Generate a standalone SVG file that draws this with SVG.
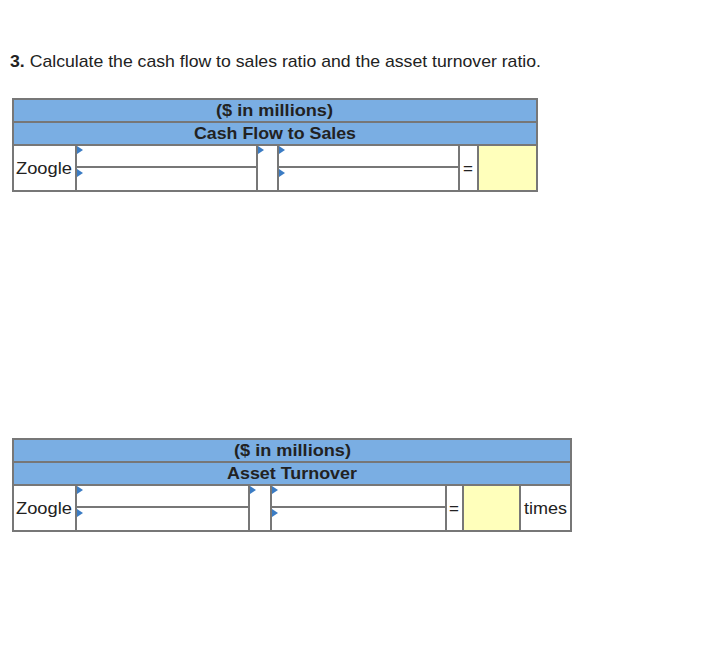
<svg xmlns="http://www.w3.org/2000/svg" width="708" height="650" viewBox="0 0 708 650">
<style>
text{font-family:"Liberation Sans",Arial,sans-serif;fill:#222}
.h{fill:#7aaee3;stroke:#777;stroke-width:2}
.c{fill:#fff;stroke:#777;stroke-width:2}
.y{fill:#ffffbb;stroke:#777;stroke-width:2}
.l{stroke:#777;stroke-width:2}
.b{font-weight:bold;font-size:17px}
.t{font-size:17px}
.m{fill:#3b7cc4}
</style>
<defs><path id="tri" class="m" d="M0,0 L6,4 L0,8 Z"/></defs>
<text x="10" y="67" font-size="17" textLength="531" lengthAdjust="spacingAndGlyphs"><tspan font-weight="bold">3.</tspan> Calculate the cash flow to sales ratio and the asset turnover ratio.</text>
<g id="table1">
<rect class="h" x="13" y="99" width="524" height="23"/>
<rect class="h" x="13" y="122" width="524" height="23"/>
<text class="b" x="216" y="116" textLength="117" lengthAdjust="spacingAndGlyphs">($ in millions)</text>
<text class="b" x="194" y="139" textLength="162" lengthAdjust="spacingAndGlyphs">Cash Flow to Sales</text>
<rect class="c" x="13" y="145" width="524" height="46"/>
<line class="l" x1="76" y1="145" x2="76" y2="191"/>
<line class="l" x1="257" y1="145" x2="257" y2="191"/>
<line class="l" x1="278" y1="145" x2="278" y2="191"/>
<line class="l" x1="459" y1="145" x2="459" y2="191"/>
<line class="l" x1="76" y1="167" x2="257" y2="167"/>
<line class="l" x1="278" y1="167" x2="459" y2="167"/>
<rect class="y" x="478" y="145" width="59" height="46"/>
<text class="t" x="16" y="174" textLength="56" lengthAdjust="spacingAndGlyphs">Zoogle</text>
<text class="t" x="468" y="174" text-anchor="middle">=</text>
<use href="#tri" x="77" y="146"/><use href="#tri" x="77" y="169"/>
<use href="#tri" x="258" y="146"/>
<use href="#tri" x="279" y="146"/><use href="#tri" x="279" y="169"/>
</g>
<g id="table2">
<rect class="h" x="13" y="439" width="558" height="23"/>
<rect class="h" x="13" y="462" width="558" height="23"/>
<text class="b" x="234" y="456" textLength="117" lengthAdjust="spacingAndGlyphs">($ in millions)</text>
<text class="b" x="227" y="479" textLength="130" lengthAdjust="spacingAndGlyphs">Asset Turnover</text>
<rect class="c" x="13" y="485" width="558" height="46"/>
<line class="l" x1="76" y1="485" x2="76" y2="531"/>
<line class="l" x1="249" y1="485" x2="249" y2="531"/>
<line class="l" x1="271" y1="485" x2="271" y2="531"/>
<line class="l" x1="446" y1="485" x2="446" y2="531"/>
<line class="l" x1="76" y1="507" x2="249" y2="507"/>
<line class="l" x1="271" y1="507" x2="446" y2="507"/>
<rect class="y" x="463" y="485" width="57" height="46"/>
<text class="t" x="16" y="514" textLength="56" lengthAdjust="spacingAndGlyphs">Zoogle</text>
<text class="t" x="454" y="514" text-anchor="middle">=</text>
<text class="t" x="524" y="514" textLength="43" lengthAdjust="spacingAndGlyphs">times</text>
<use href="#tri" x="77" y="486"/><use href="#tri" x="77" y="509"/>
<use href="#tri" x="250" y="486"/>
<use href="#tri" x="272" y="486"/><use href="#tri" x="272" y="509"/>
</g>
</svg>
